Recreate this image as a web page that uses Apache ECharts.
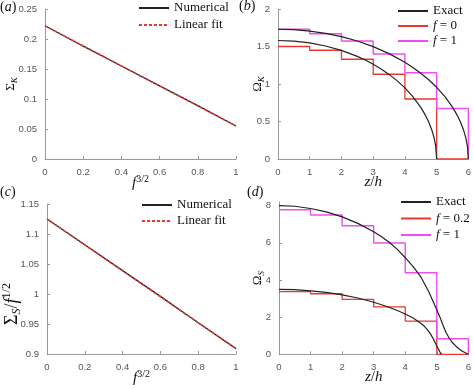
<!DOCTYPE html>
<html><head><meta charset="utf-8">
<script src="https://cdn.jsdelivr.net/npm/echarts@6/dist/echarts.min.js"></script>
<style>html,body{margin:0;padding:0;background:#fff}#c{width:474px;height:389px}</style>
</head><body><div id="c"></div>
<script>
// Panel (a) and (c): x = f^{3/2}
const fX = [0, 0.2, 0.4, 0.6, 0.8, 1];
const sigmaK = [0.222, 0.188, 0.155, 0.122, 0.089, 0.055];
const fitX = [0, 1];
const sigmaKFit = [0.222, 0.055];
const sigmaS = [1.125, 1.082, 1.039, 0.996, 0.952, 0.909];
const sigmaSFit = [1.125, 0.909];

// Step profiles (value on [i, i+1]), last point closes down to 0 at z/h = 6
const stepX = [0, 1, 2, 3, 4, 5, 6, 6];
const omegaK_f0 = [1.50, 1.45, 1.33, 1.13, 0.80, 0, 0, 0];
const omegaK_f1 = [1.73, 1.67, 1.574, 1.40, 1.15, 0.674, 0.674, 0];
const omegaS_f02 = [3.37, 3.26, 2.96, 2.55, 1.79, 0, 0, 0];
const omegaS_f1 = [7.78, 7.50, 6.92, 5.99, 4.39, 0.84, 0.84, 0];

// Exact curves
const exactK1X = [0, 0.5, 1, 1.5, 2, 2.5, 2.75, 3, 3.25, 3.5, 3.75, 4, 4.25, 4.5, 4.65, 4.75, 4.85, 4.92, 4.97, 5];
const exactK1Y = [1.58, 1.572, 1.548, 1.507, 1.448, 1.368, 1.320, 1.264, 1.201, 1.128, 1.045, 0.948, 0.832, 0.689, 0.581, 0.493, 0.384, 0.282, 0.173, 0];
const exactK2X = [0, 0.5, 1, 1.5, 2, 2.5, 3, 3.5, 4, 4.25, 4.5, 4.75, 5, 5.25, 5.5, 5.65, 5.75, 5.85, 5.92, 5.97, 6];
const exactK2Y = [1.73, 1.724, 1.706, 1.675, 1.631, 1.573, 1.498, 1.405, 1.289, 1.221, 1.144, 1.057, 0.956, 0.838, 0.691, 0.582, 0.494, 0.384, 0.282, 0.173, 0];
const exactS1X = [0, 0.5, 1, 1.5, 2, 2.5, 3, 3.25, 3.5, 3.75, 4, 4.25, 4.5, 4.6, 4.7, 4.8, 4.9, 5, 5.05, 5.1, 5.15];
const exactS1Y = [3.50, 3.48, 3.42, 3.33, 3.20, 3.03, 2.80, 2.67, 2.52, 2.36, 2.17, 1.95, 1.66, 1.52, 1.33, 1.10, 0.80, 0.45, 0.28, 0.12, 0];
const exactS2X = [0, 0.5, 1, 1.5, 2, 2.5, 3, 3.25, 3.5, 3.75, 4, 4.25, 4.5, 4.75, 5, 5.1, 5.2, 5.3, 5.4, 5.5, 5.6, 5.7, 5.8, 5.9, 6];
const exactS2Y = [8.0, 7.97, 7.85, 7.67, 7.40, 7.05, 6.60, 6.33, 6.02, 5.65, 5.20, 4.72, 4.15, 3.35, 2.40, 2.00, 1.55, 1.15, 0.85, 0.62, 0.45, 0.30, 0.18, 0.08, 0];

const omegaSTicks = [0, 2, 4, 6, 8];

const zip = (xs, ys) => xs.map((x, i) => [x, ys[i]]);

const SERIF = 'Liberation Serif';
const SANS = 'Liberation Sans';
const BLACK = '#222222';
const RED = '#e8382f';
const MAG = '#f04cf0';

function mathRich(fs, sfs) {
  return {
    n: { fontFamily: SERIF, fontSize: fs, color: '#111', lineHeight: fs + 4 },
    i: { fontFamily: SERIF, fontSize: fs, fontStyle: 'italic', color: '#111', lineHeight: fs + 4 },
    sub: { fontFamily: SERIF, fontSize: sfs, fontStyle: 'italic', color: '#111', lineHeight: sfs, verticalAlign: 'bottom' },
    sup: { fontFamily: SERIF, fontSize: sfs, color: '#111', lineHeight: sfs, verticalAlign: 'top' }
  };
}

const baseAxis = {
  type: 'value', nameLocation: 'middle', nameMoveOverlap: false,
  axisLine: { show: true, lineStyle: { color: '#9a9a9a', width: 1 } },
  axisTick: { show: true, inside: true, length: 3, lineStyle: { color: '#9a9a9a' } },
  axisLabel: { color: '#555', fontFamily: SANS, fontSize: 9.5, margin: 8 },
  splitLine: { show: false }
};
function axisCfg(grid, min, max, interval, name, gap, rich, extra) {
  return Object.assign({}, baseAxis, {
    gridIndex: grid, min, max, interval, name, nameGap: gap,
    nameTextStyle: { rich }
  }, extra || {});
}

const legendText = {
  fontFamily: SERIF, fontSize: 13, color: '#111', lineHeight: 14,
  rich: {
    i: { fontFamily: SERIF, fontSize: 13, fontStyle: 'italic', color: '#111' },
    t: { fontFamily: SERIF, fontSize: 13, color: '#111' }
  }
};
const legendFmt = (name) => {
  if (name.startsWith('f')) return '{i|f}{t|' + name.slice(1) + '}';
  return '{t|' + name + '}';
};
function legendCfg(left, top, data, gap) {
  return {
    orient: 'vertical', left, top, data, itemWidth: 30, itemHeight: 14, itemGap: gap,
    padding: 0, align: 'left', textStyle: legendText, formatter: legendFmt,
    selectedMode: false, itemStyle: { opacity: 0 }
  };
}

function line(name, xi, data, color, width, dashed, extra) {
  return Object.assign({
    type: 'line', name, xAxisIndex: xi, yAxisIndex: xi, data,
    symbol: 'none', showSymbol: false, animation: false,
    lineStyle: { color, width, type: dashed ? [3, 2] : 'solid' },
    itemStyle: { color }
  }, extra || {});
}

const panelTitle = (letter, left, top) => ({
  text: '({i|' + letter + '})', left, top, padding: 0,
  textStyle: { fontFamily: SERIF, fontSize: 14, fontWeight: 'normal', color: '#111',
    rich: { i: { fontFamily: SERIF, fontSize: 14, fontStyle: 'italic', color: '#111' } } }
});

const smallMath = mathRich(13, 9);
const xMath = mathRich(15, 10);
const bigMath = mathRich(18, 12);

const option = {
  animation: false,
  backgroundColor: '#fff',
  title: [panelTitle('a', 0, 0), panelTitle('b', 239, -1), panelTitle('c', 0, 185), panelTitle('d', 247, 185)],
  grid: [
    { left: 45, top: 9, width: 191, height: 150 },
    { left: 278, top: 9, width: 191.5, height: 150 },
    { left: 45, top: 204, width: 191, height: 150 },
    { left: 279, top: 202, width: 191, height: 152.3 }
  ],
  xAxis: [
    axisCfg(0, 0, 1, 0.2, '{i|f}{sup|3/2}', 15, xMath),
    axisCfg(1, 0, 6, 1, '{i|z}{n|/}{i|h}', 13.5, xMath),
    axisCfg(2, 0, 1, 0.2, '{i|f}{sup|3/2}', 15, xMath),
    axisCfg(3, 0, 6, 1, '{i|z}{n|/}{i|h}', 13.5, xMath)
  ],
  yAxis: [
    axisCfg(0, 0, 0.25, 0.05, '{n|Σ}{sub|K}', 26, smallMath),
    axisCfg(1, 0, 2, 0.5, '{n|Ω}{sub|K}', 12, smallMath),
    axisCfg(2, 0.9, 1.15, 0.05, '{n|Σ}{sub|S}{n|/}{i|f}{sup|1/2}', 24,
      bigMath, { nameTextStyle: { rich: bigMath, padding: [0, 50, 0, 0] } }),
    axisCfg(3, 0, 8.2, 2, '{n|Ω}{sub|S}', 13, smallMath, {
      axisTick: { show: true, inside: true, length: 3, lineStyle: { color: '#9a9a9a' }, customValues: omegaSTicks },
      axisLabel: { color: '#555', fontFamily: SANS, fontSize: 9.5, margin: 8, customValues: omegaSTicks }
    })
  ],
  legend: [
    legendCfg(138, 1, ['Numerical', 'Linear fit'], 3),
    legendCfg(397, 4, ['Exact', 'f = 0', 'f = 1'], 1),
    legendCfg(141, 198, ['Numerical', 'Linear fit'], 2),
    legendCfg(400, 195, ['Exact', 'f = 0.2', 'f = 1'], 2.5)
  ],
  series: [
    line('Numerical', 0, zip(fX, sigmaK), BLACK, 1.3, false),
    line('Linear fit', 0, zip(fitX, sigmaKFit), RED, 1.5, true),
    line('f = 0', 1, zip(stepX, omegaK_f0), RED, 1.3, false, { step: 'end' }),
    line('f = 1', 1, zip(stepX, omegaK_f1), MAG, 1.4, false, { step: 'end' }),
    line('Exact', 1, zip(exactK1X, exactK1Y), BLACK, 1.2, false),
    line('Exact', 1, zip(exactK2X, exactK2Y), BLACK, 1.2, false),
    line('Numerical', 2, zip(fX, sigmaS), BLACK, 1.3, false),
    line('Linear fit', 2, zip(fitX, sigmaSFit), RED, 1.5, true),
    line('f = 0.2', 3, zip(stepX, omegaS_f02), RED, 1.3, false, { step: 'end' }),
    line('f = 1', 3, zip(stepX, omegaS_f1), MAG, 1.4, false, { step: 'end' }),
    line('Exact', 3, zip(exactS1X, exactS1Y), BLACK, 1.2, false),
    line('Exact', 3, zip(exactS2X, exactS2Y), BLACK, 1.2, false)
  ]
};
const chart = echarts.init(document.getElementById('c'), null, { renderer: 'canvas' });
chart.setOption(option);
</script></body></html>
